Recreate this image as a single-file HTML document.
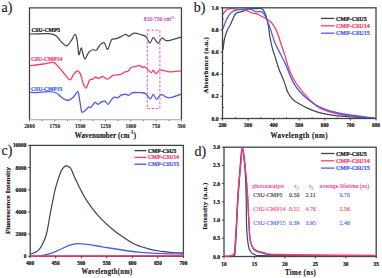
<!DOCTYPE html><html><head><meta charset="utf-8"><style>html,body{margin:0;padding:0;background:#fff;width:382px;height:278px;overflow:hidden}svg{display:block}text{font-family:"Liberation Serif",serif}</style></head><body>
<svg width="382" height="278" viewBox="0 0 382 278">
<text x="1.5" y="12.2" font-size="14.00" fill="#1a1a1a" stroke="#1a1a1a" stroke-width="0.15" text-anchor="start" font-weight="normal" >a)</text>
<path d="M29.60 34.00 C31.33 33.97 36.87 33.87 40.00 33.80 C43.13 33.73 46.23 33.50 48.40 33.60 C50.57 33.70 51.68 34.00 53.00 34.40 C54.32 34.80 55.30 35.23 56.30 36.00 C57.30 36.77 58.08 37.95 59.00 39.00 C59.92 40.05 60.88 41.33 61.80 42.30 C62.72 43.27 63.58 44.23 64.50 44.80 C65.42 45.37 66.18 46.38 67.30 45.70 C68.42 45.02 69.88 42.58 71.20 40.70 C72.52 38.82 74.18 34.27 75.20 34.40 C76.22 34.53 76.68 38.10 77.30 41.50 C77.92 44.90 78.25 53.75 78.90 54.80 C79.55 55.85 80.55 48.05 81.20 47.80 C81.85 47.55 82.17 51.43 82.80 53.30 C83.43 55.17 84.03 59.13 85.00 59.00 C85.97 58.87 87.33 54.03 88.60 52.50 C89.87 50.97 91.28 50.22 92.60 49.80 C93.92 49.38 95.20 50.90 96.50 50.00 C97.80 49.10 99.10 45.60 100.40 44.40 C101.70 43.20 103.10 41.98 104.30 42.80 C105.50 43.62 106.42 49.78 107.60 49.30 C108.78 48.82 110.12 41.65 111.40 39.90 C112.68 38.15 114.12 39.13 115.30 38.80 C116.48 38.47 116.80 38.63 118.50 37.90 C120.20 37.17 123.80 34.67 125.50 34.40 C127.20 34.13 127.25 36.50 128.70 36.30 C130.15 36.10 132.13 33.47 134.20 33.20 C136.27 32.93 139.13 34.12 141.10 34.70 C143.07 35.28 144.52 35.33 146.00 36.70 C147.48 38.07 148.78 42.73 150.00 42.90 C151.22 43.07 151.95 37.65 153.30 37.70 C154.65 37.75 156.67 43.15 158.10 43.20 C159.53 43.25 160.53 38.42 161.90 38.00 C163.27 37.58 164.35 40.48 166.30 40.70 C168.25 40.92 171.15 39.88 173.60 39.30 C176.05 38.72 179.77 37.55 181.00 37.20" fill="none" stroke="#3b474e" stroke-width="1.20" stroke-linejoin="round" stroke-linecap="round"/>
<path d="M29.60 65.70 C31.95 65.42 39.78 64.55 43.70 64.00 C47.62 63.45 50.88 62.20 53.10 62.40 C55.32 62.60 55.42 63.68 57.00 65.20 C58.58 66.72 60.50 69.07 62.60 71.50 C64.70 73.93 67.78 79.28 69.60 79.80 C71.42 80.32 72.22 76.08 73.50 74.60 C74.78 73.12 76.30 71.25 77.30 70.90 C78.30 70.55 78.82 71.57 79.50 72.50 C80.18 73.43 80.80 74.65 81.40 76.50 C82.00 78.35 82.28 81.68 83.10 83.60 C83.92 85.52 85.25 88.53 86.30 88.00 C87.35 87.47 88.35 81.87 89.40 80.40 C90.45 78.93 91.55 79.77 92.60 79.20 C93.65 78.63 94.67 77.12 95.70 77.00 C96.73 76.88 97.62 78.58 98.80 78.50 C99.98 78.42 101.35 76.38 102.80 76.50 C104.25 76.62 105.80 79.38 107.50 79.20 C109.20 79.02 110.78 76.20 113.00 75.40 C115.22 74.60 118.80 74.98 120.80 74.40 C122.80 73.82 123.80 72.42 125.00 71.90 C126.20 71.38 127.10 71.93 128.00 71.30 C128.90 70.67 129.73 68.82 130.40 68.10 C131.07 67.38 130.90 67.32 132.00 67.00 C133.10 66.68 135.75 66.47 137.00 66.20 C138.25 65.93 138.67 65.22 139.50 65.40 C140.33 65.58 141.08 67.03 142.00 67.30 C142.92 67.57 143.50 66.13 145.00 67.00 C146.50 67.87 149.62 71.97 151.00 72.50 C152.38 73.03 152.47 70.00 153.30 70.20 C154.13 70.40 154.83 73.70 156.00 73.70 C157.17 73.70 157.97 70.52 160.30 70.20 C162.63 69.88 166.55 71.68 170.00 71.80 C173.45 71.92 179.17 71.05 181.00 70.90" fill="none" stroke="#fa3c6c" stroke-width="1.30" stroke-linejoin="round" stroke-linecap="round"/>
<path d="M29.60 92.20 C30.90 92.28 34.27 92.78 37.40 92.70 C40.53 92.62 45.25 91.65 48.40 91.70 C51.55 91.75 54.20 92.13 56.30 93.00 C58.40 93.87 59.57 95.80 61.00 96.90 C62.43 98.00 63.60 99.07 64.90 99.60 C66.20 100.13 67.37 100.55 68.80 100.10 C70.23 99.65 71.98 98.30 73.50 96.90 C75.02 95.50 76.85 91.05 77.90 91.70 C78.95 92.35 79.17 97.48 79.80 100.80 C80.43 104.12 80.88 109.90 81.70 111.60 C82.52 113.30 83.55 111.75 84.70 111.00 C85.85 110.25 87.55 107.70 88.60 107.10 C89.65 106.50 89.95 108.18 91.00 107.40 C92.05 106.62 93.72 102.92 94.90 102.40 C96.08 101.88 96.92 104.43 98.10 104.30 C99.28 104.17 100.83 102.12 102.00 101.60 C103.17 101.08 104.10 100.75 105.10 101.20 C106.10 101.65 106.95 104.57 108.00 104.30 C109.05 104.03 110.30 100.78 111.40 99.60 C112.50 98.42 113.55 97.52 114.60 97.20 C115.65 96.88 116.53 98.08 117.70 97.70 C118.87 97.32 120.17 95.47 121.60 94.90 C123.03 94.33 125.12 94.22 126.30 94.30 C127.48 94.38 127.65 95.67 128.70 95.40 C129.75 95.13 130.72 93.15 132.60 92.70 C134.48 92.25 137.83 92.55 140.00 92.70 C142.17 92.85 143.90 92.57 145.60 93.60 C147.30 94.63 148.92 98.78 150.20 98.90 C151.48 99.02 152.25 94.22 153.30 94.30 C154.35 94.38 155.18 99.33 156.50 99.40 C157.82 99.47 159.13 94.97 161.20 94.70 C163.27 94.43 165.60 97.87 168.90 97.80 C172.20 97.73 178.98 94.88 181.00 94.30" fill="none" stroke="#4b5cf0" stroke-width="1.30" stroke-linejoin="round" stroke-linecap="round"/>
<rect x="147.3" y="30.2" width="12.6" height="78.3" fill="none" stroke="#d65ad6" stroke-width="1" stroke-dasharray="2.6 1.6"/>
<text x="158.9" y="21.0" font-size="5.60" fill="#c23ad6" stroke="#c23ad6" stroke-width="0.18" text-anchor="middle" font-weight="normal" >810-750 cm<tspan dy="-2.2" font-size="3.8">-1</tspan></text>
<text x="31.4" y="32.2" font-size="5.60" fill="#151515" stroke="#151515" stroke-width="0.22" text-anchor="start" font-weight="bold" >CSU-CMP5</text>
<text x="30.9" y="60.8" font-size="5.60" fill="#fa3c6c" stroke="#fa3c6c" stroke-width="0.22" text-anchor="start" font-weight="bold" >CSU-CMP14</text>
<text x="31.0" y="90.5" font-size="5.60" fill="#4b5cf0" stroke="#4b5cf0" stroke-width="0.22" text-anchor="start" font-weight="bold" >CSU-CMP15</text>

<path d="M29.50 119.80 V7.80 H181.45 V119.80" fill="none" stroke="#3f454b" stroke-width="1.3"/>
<line x1="29.50" y1="119.80" x2="181.45" y2="119.80" stroke="#9aa2b4" stroke-width="1.1"/>
<line x1="29.5" y1="119.8" x2="29.5" y2="121.4" stroke="#667080" stroke-width="0.9"/>
<text x="29.5" y="127.6" font-size="5.30" fill="#1a1a1a" stroke="#1a1a1a" stroke-width="0.08" text-anchor="middle" font-weight="bold" >2000</text>
<line x1="54.8" y1="119.8" x2="54.8" y2="121.4" stroke="#667080" stroke-width="0.9"/>
<text x="54.8" y="127.6" font-size="5.30" fill="#1a1a1a" stroke="#1a1a1a" stroke-width="0.08" text-anchor="middle" font-weight="bold" >1750</text>
<line x1="80.2" y1="119.8" x2="80.2" y2="121.4" stroke="#667080" stroke-width="0.9"/>
<text x="80.2" y="127.6" font-size="5.30" fill="#1a1a1a" stroke="#1a1a1a" stroke-width="0.08" text-anchor="middle" font-weight="bold" >1500</text>
<line x1="105.5" y1="119.8" x2="105.5" y2="121.4" stroke="#667080" stroke-width="0.9"/>
<text x="105.5" y="127.6" font-size="5.30" fill="#1a1a1a" stroke="#1a1a1a" stroke-width="0.08" text-anchor="middle" font-weight="bold" >1250</text>
<line x1="130.8" y1="119.8" x2="130.8" y2="121.4" stroke="#667080" stroke-width="0.9"/>
<text x="130.8" y="127.6" font-size="5.30" fill="#1a1a1a" stroke="#1a1a1a" stroke-width="0.08" text-anchor="middle" font-weight="bold" >1000</text>
<line x1="156.1" y1="119.8" x2="156.1" y2="121.4" stroke="#667080" stroke-width="0.9"/>
<text x="156.1" y="127.6" font-size="5.30" fill="#1a1a1a" stroke="#1a1a1a" stroke-width="0.08" text-anchor="middle" font-weight="bold" >750</text>
<line x1="181.4" y1="119.8" x2="181.4" y2="121.4" stroke="#667080" stroke-width="0.9"/>
<text x="181.4" y="127.6" font-size="5.30" fill="#1a1a1a" stroke="#1a1a1a" stroke-width="0.08" text-anchor="middle" font-weight="bold" >500</text>
<line x1="42.2" y1="119.8" x2="42.2" y2="121.0" stroke="#667080" stroke-width="0.9"/>
<line x1="67.5" y1="119.8" x2="67.5" y2="121.0" stroke="#667080" stroke-width="0.9"/>
<line x1="92.8" y1="119.8" x2="92.8" y2="121.0" stroke="#667080" stroke-width="0.9"/>
<line x1="118.1" y1="119.8" x2="118.1" y2="121.0" stroke="#667080" stroke-width="0.9"/>
<line x1="143.5" y1="119.8" x2="143.5" y2="121.0" stroke="#667080" stroke-width="0.9"/>
<line x1="168.8" y1="119.8" x2="168.8" y2="121.0" stroke="#667080" stroke-width="0.9"/>
<text transform="translate(105.40,137.60) scale(1,1.300)" x="0" y="0" font-size="7.00" fill="#151515" stroke="#151515" stroke-width="0.12" text-anchor="middle" font-weight="bold" letter-spacing="0.12">Wavenumber (cm<tspan dy="-2.6" font-size="4.5">-1</tspan><tspan dy="2.6">)</tspan></text>
<text x="193.8" y="12.0" font-size="14.00" fill="#1a1a1a" stroke="#1a1a1a" stroke-width="0.15" text-anchor="start" font-weight="normal" >b)</text>
<path d="M223.00 50.00 C223.25 48.13 223.82 42.07 224.50 38.80 C225.18 35.53 226.10 32.80 227.10 30.40 C228.10 28.00 229.38 26.67 230.50 24.40 C231.62 22.13 232.82 18.68 233.80 16.80 C234.78 14.92 235.27 13.93 236.40 13.10 C237.53 12.27 239.33 12.17 240.60 11.80 C241.87 11.43 242.87 11.33 244.00 10.90 C245.13 10.47 246.13 9.58 247.40 9.20 C248.67 8.82 250.00 8.70 251.60 8.60 C253.20 8.50 255.27 8.57 257.00 8.60 C258.73 8.63 260.72 8.13 262.00 8.80 C263.28 9.47 263.88 10.90 264.70 12.60 C265.52 14.30 266.27 16.67 266.90 19.00 C267.53 21.33 268.05 23.93 268.50 26.60 C268.95 29.27 269.00 31.55 269.60 35.00 C270.20 38.45 271.08 43.33 272.10 47.30 C273.12 51.27 274.50 55.02 275.70 58.80 C276.90 62.58 277.87 66.15 279.30 70.00 C280.73 73.85 282.93 78.30 284.30 81.90 C285.67 85.50 286.15 88.73 287.50 91.60 C288.85 94.47 290.32 96.98 292.40 99.10 C294.48 101.22 297.03 102.58 300.00 104.30 C302.97 106.02 306.80 107.97 310.20 109.40 C313.60 110.83 317.00 111.98 320.40 112.90 C323.80 113.82 327.20 114.37 330.60 114.90 C334.00 115.43 335.70 115.65 340.80 116.10 C345.90 116.55 355.50 117.23 361.20 117.60 C366.90 117.97 372.70 118.18 375.00 118.30" fill="none" stroke="#3b474e" stroke-width="1.20" stroke-linejoin="round" stroke-linecap="round"/>
<path d="M223.00 14.30 C223.40 13.73 224.43 11.80 225.40 10.90 C226.37 10.00 227.68 9.30 228.80 8.90 C229.92 8.50 230.70 8.45 232.10 8.50 C233.50 8.55 235.50 9.00 237.20 9.20 C238.90 9.40 240.60 9.42 242.30 9.70 C244.00 9.98 245.72 10.33 247.40 10.90 C249.08 11.47 250.80 12.62 252.40 13.10 C254.00 13.58 255.67 13.35 257.00 13.80 C258.33 14.25 258.75 14.93 260.40 15.80 C262.05 16.67 265.10 17.92 266.90 19.00 C268.70 20.08 269.85 20.85 271.20 22.30 C272.55 23.75 273.83 25.58 275.00 27.70 C276.17 29.82 277.25 32.45 278.20 35.00 C279.15 37.55 279.57 39.52 280.70 43.00 C281.83 46.48 283.57 51.40 285.00 55.90 C286.43 60.40 287.43 65.40 289.30 70.00 C291.17 74.60 292.90 78.65 296.20 83.50 C299.50 88.35 305.07 94.95 309.10 99.10 C313.13 103.25 315.12 105.83 320.40 108.40 C325.68 110.97 334.00 113.07 340.80 114.50 C347.60 115.93 355.50 116.37 361.20 117.00 C366.90 117.63 372.70 118.08 375.00 118.30" fill="none" stroke="#fa3c6c" stroke-width="1.30" stroke-linejoin="round" stroke-linecap="round"/>
<path d="M223.00 28.70 C223.53 27.28 225.10 22.60 226.20 20.20 C227.30 17.80 228.33 15.85 229.60 14.30 C230.87 12.75 232.25 11.67 233.80 10.90 C235.35 10.13 236.92 10.03 238.90 9.70 C240.88 9.37 243.87 8.98 245.70 8.90 C247.53 8.82 248.50 8.87 249.90 9.20 C251.30 9.53 252.92 10.47 254.10 10.90 C255.28 11.33 255.77 11.67 257.00 11.80 C258.23 11.93 260.22 11.13 261.50 11.70 C262.78 12.27 263.80 13.80 264.70 15.20 C265.60 16.60 266.08 18.20 266.90 20.10 C267.72 22.00 268.70 24.12 269.60 26.60 C270.50 29.08 271.40 32.27 272.30 35.00 C273.20 37.73 273.60 39.75 275.00 43.00 C276.40 46.25 279.03 51.15 280.70 54.50 C282.37 57.85 283.80 60.52 285.00 63.10 C286.20 65.68 286.57 66.87 287.90 70.00 C289.23 73.13 290.98 78.23 293.00 81.90 C295.02 85.57 297.13 88.78 300.00 92.00 C302.87 95.22 306.80 98.65 310.20 101.20 C313.60 103.75 317.00 105.67 320.40 107.30 C323.80 108.93 327.20 109.97 330.60 111.00 C334.00 112.03 335.70 112.58 340.80 113.50 C345.90 114.42 355.50 115.70 361.20 116.50 C366.90 117.30 372.70 118.00 375.00 118.30" fill="none" stroke="#4b5cf0" stroke-width="1.30" stroke-linejoin="round" stroke-linecap="round"/>
<rect x="222.5" y="7.8" width="153.5" height="110.7" fill="none" stroke="#3f454b" stroke-width="1.30"/>
<line x1="220.5" y1="118.5" x2="222.5" y2="118.5" stroke="#3f454b" stroke-width="1"/>
<text x="218.7" y="120.5" font-size="5.70" fill="#151515" stroke="#151515" stroke-width="0.22" text-anchor="end" font-weight="bold" >0.0</text>
<line x1="222.5" y1="107.4" x2="223.8" y2="107.4" stroke="#3f454b" stroke-width="1"/>
<line x1="220.5" y1="96.3" x2="222.5" y2="96.3" stroke="#3f454b" stroke-width="1"/>
<text x="218.7" y="98.3" font-size="5.70" fill="#151515" stroke="#151515" stroke-width="0.22" text-anchor="end" font-weight="bold" >0.2</text>
<line x1="222.5" y1="85.3" x2="223.8" y2="85.3" stroke="#3f454b" stroke-width="1"/>
<line x1="220.5" y1="74.2" x2="222.5" y2="74.2" stroke="#3f454b" stroke-width="1"/>
<text x="218.7" y="76.2" font-size="5.70" fill="#151515" stroke="#151515" stroke-width="0.22" text-anchor="end" font-weight="bold" >0.4</text>
<line x1="222.5" y1="63.1" x2="223.8" y2="63.1" stroke="#3f454b" stroke-width="1"/>
<line x1="220.5" y1="52.1" x2="222.5" y2="52.1" stroke="#3f454b" stroke-width="1"/>
<text x="218.7" y="54.1" font-size="5.70" fill="#151515" stroke="#151515" stroke-width="0.22" text-anchor="end" font-weight="bold" >0.6</text>
<line x1="222.5" y1="41.0" x2="223.8" y2="41.0" stroke="#3f454b" stroke-width="1"/>
<line x1="220.5" y1="29.9" x2="222.5" y2="29.9" stroke="#3f454b" stroke-width="1"/>
<text x="218.7" y="31.9" font-size="5.70" fill="#151515" stroke="#151515" stroke-width="0.22" text-anchor="end" font-weight="bold" >0.8</text>
<line x1="222.5" y1="18.9" x2="223.8" y2="18.9" stroke="#3f454b" stroke-width="1"/>
<line x1="220.5" y1="7.8" x2="222.5" y2="7.8" stroke="#3f454b" stroke-width="1"/>
<text x="218.7" y="9.8" font-size="5.70" fill="#151515" stroke="#151515" stroke-width="0.22" text-anchor="end" font-weight="bold" >1.0</text>
<line x1="222.5" y1="118.5" x2="222.5" y2="120.5" stroke="#3f454b" stroke-width="1"/>
<text x="222.5" y="126.7" font-size="5.30" fill="#151515" stroke="#151515" stroke-width="0.22" text-anchor="middle" font-weight="bold" >200</text>
<line x1="235.3" y1="118.5" x2="235.3" y2="117.2" stroke="#3f454b" stroke-width="1"/>
<line x1="248.1" y1="118.5" x2="248.1" y2="120.5" stroke="#3f454b" stroke-width="1"/>
<text x="248.1" y="126.7" font-size="5.30" fill="#151515" stroke="#151515" stroke-width="0.22" text-anchor="middle" font-weight="bold" >300</text>
<line x1="260.9" y1="118.5" x2="260.9" y2="117.2" stroke="#3f454b" stroke-width="1"/>
<line x1="273.7" y1="118.5" x2="273.7" y2="120.5" stroke="#3f454b" stroke-width="1"/>
<text x="273.7" y="126.7" font-size="5.30" fill="#151515" stroke="#151515" stroke-width="0.22" text-anchor="middle" font-weight="bold" >400</text>
<line x1="286.5" y1="118.5" x2="286.5" y2="117.2" stroke="#3f454b" stroke-width="1"/>
<line x1="299.2" y1="118.5" x2="299.2" y2="120.5" stroke="#3f454b" stroke-width="1"/>
<text x="299.2" y="126.7" font-size="5.30" fill="#151515" stroke="#151515" stroke-width="0.22" text-anchor="middle" font-weight="bold" >500</text>
<line x1="312.0" y1="118.5" x2="312.0" y2="117.2" stroke="#3f454b" stroke-width="1"/>
<line x1="324.8" y1="118.5" x2="324.8" y2="120.5" stroke="#3f454b" stroke-width="1"/>
<text x="324.8" y="126.7" font-size="5.30" fill="#151515" stroke="#151515" stroke-width="0.22" text-anchor="middle" font-weight="bold" >600</text>
<line x1="337.6" y1="118.5" x2="337.6" y2="117.2" stroke="#3f454b" stroke-width="1"/>
<line x1="350.4" y1="118.5" x2="350.4" y2="120.5" stroke="#3f454b" stroke-width="1"/>
<text x="350.4" y="126.7" font-size="5.30" fill="#151515" stroke="#151515" stroke-width="0.22" text-anchor="middle" font-weight="bold" >700</text>
<line x1="363.2" y1="118.5" x2="363.2" y2="117.2" stroke="#3f454b" stroke-width="1"/>
<line x1="376.0" y1="118.5" x2="376.0" y2="120.5" stroke="#3f454b" stroke-width="1"/>
<text x="376.0" y="126.7" font-size="5.30" fill="#151515" stroke="#151515" stroke-width="0.22" text-anchor="middle" font-weight="bold" >800</text>
<text transform="translate(299.20,137.90) scale(1,1.200)" x="0" y="0" font-size="7.00" fill="#151515" stroke="#151515" stroke-width="0.12" text-anchor="middle" font-weight="bold" letter-spacing="0.4">Wavelength (nm)</text>
<text transform="translate(207.8,65.2) rotate(-90)" x="0" y="0" font-size="6.82" font-weight="bold" fill="#151515" stroke="#151515" stroke-width="0.18" letter-spacing="0.3" text-anchor="middle">Absorbance (a.u.)</text>
<line x1="321" y1="18.4" x2="334.5" y2="18.4" stroke="#3b474e" stroke-width="1.3"/>
<text x="336.0" y="20.5" font-size="6.00" fill="#151515" stroke="#151515" stroke-width="0.22" text-anchor="start" font-weight="bold" >CMP-CSU5</text>
<line x1="321" y1="25.8" x2="334.5" y2="25.8" stroke="#fa3c6c" stroke-width="1.3"/>
<text x="336.0" y="27.9" font-size="6.00" fill="#fa3c6c" stroke="#fa3c6c" stroke-width="0.22" text-anchor="start" font-weight="bold" >CMP-CSU14</text>
<line x1="321" y1="33.2" x2="334.5" y2="33.2" stroke="#4b5cf0" stroke-width="1.3"/>
<text x="336.0" y="35.3" font-size="6.00" fill="#4b5cf0" stroke="#4b5cf0" stroke-width="0.22" text-anchor="start" font-weight="bold" >CMP-CSU15</text>
<text x="1.5" y="155.2" font-size="14.00" fill="#1a1a1a" stroke="#1a1a1a" stroke-width="0.15" text-anchor="start" font-weight="normal" >c)</text>
<rect x="30.2" y="145.4" width="153.2" height="110.9" fill="none" stroke="#3f454b" stroke-width="1.30"/>
<path d="M30.80 254.00 C31.50 253.75 33.67 253.18 35.00 252.50 C36.33 251.82 37.58 251.22 38.80 249.90 C40.02 248.58 41.02 247.25 42.30 244.60 C43.58 241.95 45.15 239.28 46.50 234.00 C47.85 228.72 48.90 220.53 50.40 212.90 C51.90 205.27 53.80 194.97 55.50 188.20 C57.20 181.43 59.28 175.73 60.60 172.30 C61.92 168.87 62.45 168.67 63.40 167.60 C64.35 166.53 65.35 166.00 66.30 165.90 C67.25 165.80 68.28 166.43 69.10 167.00 C69.92 167.57 70.12 167.23 71.20 169.30 C72.28 171.37 73.52 175.02 75.60 179.40 C77.68 183.78 80.90 190.73 83.70 195.60 C86.50 200.47 89.33 204.55 92.40 208.60 C95.47 212.65 98.87 216.55 102.10 219.90 C105.33 223.25 108.57 226.00 111.80 228.70 C115.03 231.40 117.98 233.67 121.50 236.10 C125.02 238.53 129.70 241.57 132.90 243.30 C136.10 245.03 138.08 245.58 140.70 246.50 C143.32 247.42 145.98 248.13 148.60 248.80 C151.22 249.47 153.78 250.02 156.40 250.50 C159.02 250.98 161.68 251.37 164.30 251.70 C166.92 252.03 168.95 252.28 172.10 252.50 C175.25 252.72 181.35 252.92 183.20 253.00" fill="none" stroke="#3b474e" stroke-width="1.20" stroke-linejoin="round" stroke-linecap="round"/>
<path d="M30.80 256.30 C32.33 256.22 36.62 256.28 40.00 255.80 C43.38 255.32 47.77 254.45 51.10 253.40 C54.43 252.35 56.90 250.87 60.00 249.50 C63.10 248.13 66.73 246.18 69.70 245.20 C72.67 244.22 75.10 243.77 77.80 243.60 C80.50 243.43 81.85 243.67 85.90 244.20 C89.95 244.73 95.58 245.75 102.10 246.80 C108.62 247.85 118.57 249.58 125.00 250.50 C131.43 251.42 135.47 251.83 140.70 252.30 C145.93 252.77 149.32 253.02 156.40 253.30 C163.48 253.58 178.73 253.88 183.20 254.00" fill="none" stroke="#4b5cf0" stroke-width="1.30" stroke-linejoin="round" stroke-linecap="round"/>
<path d="M30.8 256.1 L183.2 255.8" fill="none" stroke="#fa3c6c" stroke-width="1.50" stroke-linejoin="round" stroke-linecap="round"/>
<line x1="28.2" y1="256.3" x2="30.2" y2="256.3" stroke="#3f454b" stroke-width="1"/>
<text x="26.4" y="258.2" font-size="5.40" fill="#151515" stroke="#151515" stroke-width="0.22" text-anchor="end" font-weight="bold" >0</text>
<line x1="28.2" y1="234.1" x2="30.2" y2="234.1" stroke="#3f454b" stroke-width="1"/>
<text x="26.4" y="236.0" font-size="5.40" fill="#151515" stroke="#151515" stroke-width="0.22" text-anchor="end" font-weight="bold" >2000</text>
<line x1="28.2" y1="212.0" x2="30.2" y2="212.0" stroke="#3f454b" stroke-width="1"/>
<text x="26.4" y="213.9" font-size="5.40" fill="#151515" stroke="#151515" stroke-width="0.22" text-anchor="end" font-weight="bold" >4000</text>
<line x1="28.2" y1="189.8" x2="30.2" y2="189.8" stroke="#3f454b" stroke-width="1"/>
<text x="26.4" y="191.7" font-size="5.40" fill="#151515" stroke="#151515" stroke-width="0.22" text-anchor="end" font-weight="bold" >6000</text>
<line x1="28.2" y1="167.6" x2="30.2" y2="167.6" stroke="#3f454b" stroke-width="1"/>
<text x="26.4" y="169.5" font-size="5.40" fill="#151515" stroke="#151515" stroke-width="0.22" text-anchor="end" font-weight="bold" >8000</text>
<line x1="28.2" y1="145.4" x2="30.2" y2="145.4" stroke="#3f454b" stroke-width="1"/>
<text x="26.4" y="147.3" font-size="5.40" fill="#151515" stroke="#151515" stroke-width="0.22" text-anchor="end" font-weight="bold" >10000</text>
<line x1="30.2" y1="256.3" x2="30.2" y2="258.3" stroke="#3f454b" stroke-width="1"/>
<text x="30.2" y="265.2" font-size="5.30" fill="#151515" stroke="#151515" stroke-width="0.22" text-anchor="middle" font-weight="bold" >400</text>
<line x1="55.7" y1="256.3" x2="55.7" y2="258.3" stroke="#3f454b" stroke-width="1"/>
<text x="55.7" y="265.2" font-size="5.30" fill="#151515" stroke="#151515" stroke-width="0.22" text-anchor="middle" font-weight="bold" >450</text>
<line x1="81.3" y1="256.3" x2="81.3" y2="258.3" stroke="#3f454b" stroke-width="1"/>
<text x="81.3" y="265.2" font-size="5.30" fill="#151515" stroke="#151515" stroke-width="0.22" text-anchor="middle" font-weight="bold" >500</text>
<line x1="106.8" y1="256.3" x2="106.8" y2="258.3" stroke="#3f454b" stroke-width="1"/>
<text x="106.8" y="265.2" font-size="5.30" fill="#151515" stroke="#151515" stroke-width="0.22" text-anchor="middle" font-weight="bold" >550</text>
<line x1="132.4" y1="256.3" x2="132.4" y2="258.3" stroke="#3f454b" stroke-width="1"/>
<text x="132.4" y="265.2" font-size="5.30" fill="#151515" stroke="#151515" stroke-width="0.22" text-anchor="middle" font-weight="bold" >600</text>
<line x1="157.9" y1="256.3" x2="157.9" y2="258.3" stroke="#3f454b" stroke-width="1"/>
<text x="157.9" y="265.2" font-size="5.30" fill="#151515" stroke="#151515" stroke-width="0.22" text-anchor="middle" font-weight="bold" >650</text>
<line x1="183.4" y1="256.3" x2="183.4" y2="258.3" stroke="#3f454b" stroke-width="1"/>
<text x="183.4" y="265.2" font-size="5.30" fill="#151515" stroke="#151515" stroke-width="0.22" text-anchor="middle" font-weight="bold" >700</text>
<text transform="translate(107.00,274.30) scale(1,1.250)" x="0" y="0" font-size="6.50" fill="#151515" stroke="#151515" stroke-width="0.12" text-anchor="middle" font-weight="bold" letter-spacing="0.35">Wavelength(nm)</text>
<text transform="translate(9.8,200.6) rotate(-90)" x="0" y="0" font-size="7.0" font-weight="bold" fill="#151515" stroke="#151515" stroke-width="0.18" text-anchor="middle">Fluorescence Intensity</text>
<line x1="134.5" y1="150.6" x2="146.4" y2="150.6" stroke="#3b474e" stroke-width="1.4"/>
<text x="148.0" y="152.5" font-size="5.55" fill="#151515" stroke="#151515" stroke-width="0.22" text-anchor="start" font-weight="bold" >CMP-CSU5</text>
<line x1="134.5" y1="157.4" x2="146.4" y2="157.4" stroke="#fa3c6c" stroke-width="1.4"/>
<text x="148.0" y="159.3" font-size="5.55" fill="#fa3c6c" stroke="#fa3c6c" stroke-width="0.22" text-anchor="start" font-weight="bold" >CMP-CSU14</text>
<line x1="134.5" y1="164.2" x2="146.4" y2="164.2" stroke="#4b5cf0" stroke-width="1.4"/>
<text x="148.0" y="166.1" font-size="5.55" fill="#4b5cf0" stroke="#4b5cf0" stroke-width="0.22" text-anchor="start" font-weight="bold" >CMP-CSU15</text>
<text x="194.6" y="156.2" font-size="14.00" fill="#1a1a1a" stroke="#1a1a1a" stroke-width="0.15" text-anchor="start" font-weight="normal" >d)</text>
<rect x="224.0" y="147.2" width="152.2" height="109.3" fill="none" stroke="#3f454b" stroke-width="1.30"/>
<path d="M224.60 256.40 C226.00 256.32 231.38 256.47 233.00 255.90 C234.62 255.33 233.90 255.62 234.30 253.00 C234.70 250.38 235.00 246.10 235.40 240.20 C235.80 234.30 236.28 225.13 236.70 217.60 C237.12 210.07 237.30 203.77 237.90 195.00 C238.50 186.23 239.62 172.87 240.30 165.00 C240.98 157.13 241.25 147.80 242.00 147.80 C242.75 147.80 243.90 157.13 244.80 165.00 C245.70 172.87 246.77 186.23 247.40 195.00 C248.03 203.77 248.15 210.07 248.60 217.60 C249.05 225.13 249.17 234.83 250.10 240.20 C251.03 245.57 252.05 247.63 254.20 249.80 C256.35 251.97 258.70 252.33 263.00 253.20 C267.30 254.07 261.17 254.53 280.00 255.00 C298.83 255.47 360.00 255.83 376.00 256.00" fill="none" stroke="#4b5cf0" stroke-width="1.30" stroke-linejoin="round" stroke-linecap="round"/>
<path d="M224.60 256.40 C226.17 256.35 232.23 257.17 234.00 256.10 C235.77 255.03 234.88 252.68 235.20 250.00 C235.52 247.32 235.60 245.40 235.90 240.00 C236.20 234.60 236.62 225.10 237.00 217.60 C237.38 210.10 237.60 203.77 238.20 195.00 C238.80 186.23 239.87 172.87 240.60 165.00 C241.33 157.13 241.90 147.80 242.60 147.80 C243.30 147.80 244.22 157.13 244.80 165.00 C245.38 172.87 245.78 184.33 246.10 195.00 C246.42 205.67 246.28 220.33 246.70 229.00 C247.12 237.67 247.88 243.17 248.60 247.00 C249.32 250.83 250.03 250.78 251.00 252.00 C251.97 253.22 251.23 253.67 254.40 254.30 C257.57 254.93 249.73 255.48 270.00 255.80 C290.27 256.12 358.33 256.13 376.00 256.20" fill="none" stroke="#3b474e" stroke-width="1.20" stroke-linejoin="round" stroke-linecap="round"/>
<path d="M224.60 256.20 C225.50 256.13 228.60 256.03 230.00 255.80 C231.40 255.57 232.25 255.35 233.00 254.80 C233.75 254.25 234.07 254.93 234.50 252.50 C234.93 250.07 235.20 246.02 235.60 240.20 C236.00 234.38 236.48 225.13 236.90 217.60 C237.32 210.07 237.48 203.77 238.10 195.00 C238.72 186.23 239.88 172.87 240.60 165.00 C241.32 157.13 241.67 147.80 242.40 147.80 C243.13 147.80 244.13 157.13 245.00 165.00 C245.87 172.87 246.97 186.23 247.60 195.00 C248.23 203.77 248.35 210.07 248.80 217.60 C249.25 225.13 249.37 234.92 250.30 240.20 C251.23 245.48 252.20 247.25 254.40 249.30 C256.60 251.35 259.23 251.63 263.50 252.50 C267.77 253.37 261.25 254.02 280.00 254.50 C298.75 254.98 360.00 255.25 376.00 255.40" fill="none" stroke="#fa3c6c" stroke-width="1.30" stroke-linejoin="round" stroke-linecap="round"/>
<line x1="222.0" y1="256.5" x2="224.0" y2="256.5" stroke="#3f454b" stroke-width="1"/>
<text x="220.2" y="258.5" font-size="5.70" fill="#151515" stroke="#151515" stroke-width="0.22" text-anchor="end" font-weight="bold" >0.0</text>
<line x1="222.0" y1="238.3" x2="224.0" y2="238.3" stroke="#3f454b" stroke-width="1"/>
<text x="220.2" y="240.3" font-size="5.70" fill="#151515" stroke="#151515" stroke-width="0.22" text-anchor="end" font-weight="bold" >0.5</text>
<line x1="222.0" y1="220.1" x2="224.0" y2="220.1" stroke="#3f454b" stroke-width="1"/>
<text x="220.2" y="222.1" font-size="5.70" fill="#151515" stroke="#151515" stroke-width="0.22" text-anchor="end" font-weight="bold" >1.0</text>
<line x1="222.0" y1="201.8" x2="224.0" y2="201.8" stroke="#3f454b" stroke-width="1"/>
<text x="220.2" y="203.8" font-size="5.70" fill="#151515" stroke="#151515" stroke-width="0.22" text-anchor="end" font-weight="bold" >1.5</text>
<line x1="222.0" y1="183.6" x2="224.0" y2="183.6" stroke="#3f454b" stroke-width="1"/>
<text x="220.2" y="185.6" font-size="5.70" fill="#151515" stroke="#151515" stroke-width="0.22" text-anchor="end" font-weight="bold" >2.0</text>
<line x1="222.0" y1="165.4" x2="224.0" y2="165.4" stroke="#3f454b" stroke-width="1"/>
<text x="220.2" y="167.4" font-size="5.70" fill="#151515" stroke="#151515" stroke-width="0.22" text-anchor="end" font-weight="bold" >2.5</text>
<line x1="222.0" y1="147.2" x2="224.0" y2="147.2" stroke="#3f454b" stroke-width="1"/>
<text x="220.2" y="149.2" font-size="5.70" fill="#151515" stroke="#151515" stroke-width="0.22" text-anchor="end" font-weight="bold" >3.0</text>
<line x1="224.0" y1="256.5" x2="224.0" y2="258.5" stroke="#3f454b" stroke-width="1"/>
<text x="224.0" y="265.5" font-size="5.30" fill="#151515" stroke="#151515" stroke-width="0.22" text-anchor="middle" font-weight="bold" >10</text>
<line x1="254.4" y1="256.5" x2="254.4" y2="258.5" stroke="#3f454b" stroke-width="1"/>
<text x="254.4" y="265.5" font-size="5.30" fill="#151515" stroke="#151515" stroke-width="0.22" text-anchor="middle" font-weight="bold" >15</text>
<line x1="284.9" y1="256.5" x2="284.9" y2="258.5" stroke="#3f454b" stroke-width="1"/>
<text x="284.9" y="265.5" font-size="5.30" fill="#151515" stroke="#151515" stroke-width="0.22" text-anchor="middle" font-weight="bold" >20</text>
<line x1="315.3" y1="256.5" x2="315.3" y2="258.5" stroke="#3f454b" stroke-width="1"/>
<text x="315.3" y="265.5" font-size="5.30" fill="#151515" stroke="#151515" stroke-width="0.22" text-anchor="middle" font-weight="bold" >25</text>
<line x1="345.8" y1="256.5" x2="345.8" y2="258.5" stroke="#3f454b" stroke-width="1"/>
<text x="345.8" y="265.5" font-size="5.30" fill="#151515" stroke="#151515" stroke-width="0.22" text-anchor="middle" font-weight="bold" >30</text>
<line x1="376.2" y1="256.5" x2="376.2" y2="258.5" stroke="#3f454b" stroke-width="1"/>
<text x="376.2" y="265.5" font-size="5.30" fill="#151515" stroke="#151515" stroke-width="0.22" text-anchor="middle" font-weight="bold" >35</text>
<text transform="translate(300.50,274.80) scale(1,1.200)" x="0" y="0" font-size="7.00" fill="#151515" stroke="#151515" stroke-width="0.12" text-anchor="middle" font-weight="bold" letter-spacing="0.3">Time (ns)</text>
<text transform="translate(207.3,206.2) rotate(-90)" x="0" y="0" font-size="6.8" font-weight="bold" fill="#151515" stroke="#151515" stroke-width="0.18" letter-spacing="0.3" text-anchor="middle">Intensity (a.u.)</text>
<line x1="321" y1="153.5" x2="334.5" y2="153.5" stroke="#3b474e" stroke-width="1.3"/>
<text x="336.0" y="155.6" font-size="6.00" fill="#151515" stroke="#151515" stroke-width="0.22" text-anchor="start" font-weight="bold" >CMP-CSU5</text>
<line x1="321" y1="160.8" x2="334.5" y2="160.8" stroke="#fa3c6c" stroke-width="1.3"/>
<text x="336.0" y="162.9" font-size="6.00" fill="#fa3c6c" stroke="#fa3c6c" stroke-width="0.22" text-anchor="start" font-weight="bold" >CMP-CSU14</text>
<line x1="321" y1="168.1" x2="334.5" y2="168.1" stroke="#4b5cf0" stroke-width="1.3"/>
<text x="336.0" y="170.2" font-size="6.00" fill="#4b5cf0" stroke="#4b5cf0" stroke-width="0.22" text-anchor="start" font-weight="bold" >CMP-CSU15</text>
<g transform="translate(0,185.90) scale(1,1.100) translate(0,-185.90)">
<text x="252.3" y="187.9" font-size="6.00" fill="#e8309a" stroke="#e8309a" stroke-width="0.10" text-anchor="start" font-weight="normal" >photocatalyst</text>
<text x="294.5" y="187.9" font-size="6.00" fill="#e8309a" stroke="#e8309a" stroke-width="0.10" text-anchor="start" font-weight="normal" >τ<tspan dy="1.5" font-size="3.5">1</tspan></text>
<text x="309.0" y="187.9" font-size="6.00" fill="#e8309a" stroke="#e8309a" stroke-width="0.10" text-anchor="start" font-weight="normal" >τ<tspan dy="1.5" font-size="3.5">2</tspan></text>
<text x="319.6" y="187.9" font-size="6.00" fill="#e8309a" stroke="#e8309a" stroke-width="0.10" text-anchor="start" font-weight="normal" >average lifetime (ns)</text>
</g>
<g transform="translate(0,194.70) scale(1,1.100) translate(0,-194.70)">
<text x="253.2" y="196.7" font-size="6.00" fill="#1e2a34" stroke="#1e2a34" stroke-width="0.10" text-anchor="start" font-weight="normal" >CSU-CMP5</text>
<text x="289.0" y="196.7" font-size="6.00" fill="#1e2a34" stroke="#1e2a34" stroke-width="0.10" text-anchor="start" font-weight="normal" >0.50</text>
<text x="305.5" y="196.7" font-size="6.00" fill="#1e2a34" stroke="#1e2a34" stroke-width="0.10" text-anchor="start" font-weight="normal" >2.11</text>
<text x="339.4" y="196.7" font-size="6.00" fill="#4b5cf0" stroke="#4b5cf0" stroke-width="0.10" text-anchor="start" font-weight="normal" >0.70</text>
</g>
<g transform="translate(0,208.60) scale(1,1.100) translate(0,-208.60)">
<text x="253.2" y="210.6" font-size="6.00" fill="#fa3c6c" stroke="#fa3c6c" stroke-width="0.10" text-anchor="start" font-weight="normal" >CSU-CMP14</text>
<text x="289.0" y="210.6" font-size="6.00" fill="#fa3c6c" stroke="#fa3c6c" stroke-width="0.10" text-anchor="start" font-weight="normal" >0.55</text>
<text x="305.5" y="210.6" font-size="6.00" fill="#fa3c6c" stroke="#fa3c6c" stroke-width="0.10" text-anchor="start" font-weight="normal" >4.76</text>
<text x="339.4" y="210.6" font-size="6.00" fill="#fa3c6c" stroke="#fa3c6c" stroke-width="0.10" text-anchor="start" font-weight="normal" >2.56</text>
</g>
<g transform="translate(0,223.30) scale(1,1.100) translate(0,-223.30)">
<text x="253.2" y="225.3" font-size="6.00" fill="#4b5cf0" stroke="#4b5cf0" stroke-width="0.10" text-anchor="start" font-weight="normal" >CSU-CMP15</text>
<text x="289.0" y="225.3" font-size="6.00" fill="#4b5cf0" stroke="#4b5cf0" stroke-width="0.10" text-anchor="start" font-weight="normal" >0.39</text>
<text x="305.5" y="225.3" font-size="6.00" fill="#4b5cf0" stroke="#4b5cf0" stroke-width="0.10" text-anchor="start" font-weight="normal" >3.95</text>
<text x="339.4" y="225.3" font-size="6.00" fill="#4b5cf0" stroke="#4b5cf0" stroke-width="0.10" text-anchor="start" font-weight="normal" >2.46</text>
</g>
</svg></body></html>
